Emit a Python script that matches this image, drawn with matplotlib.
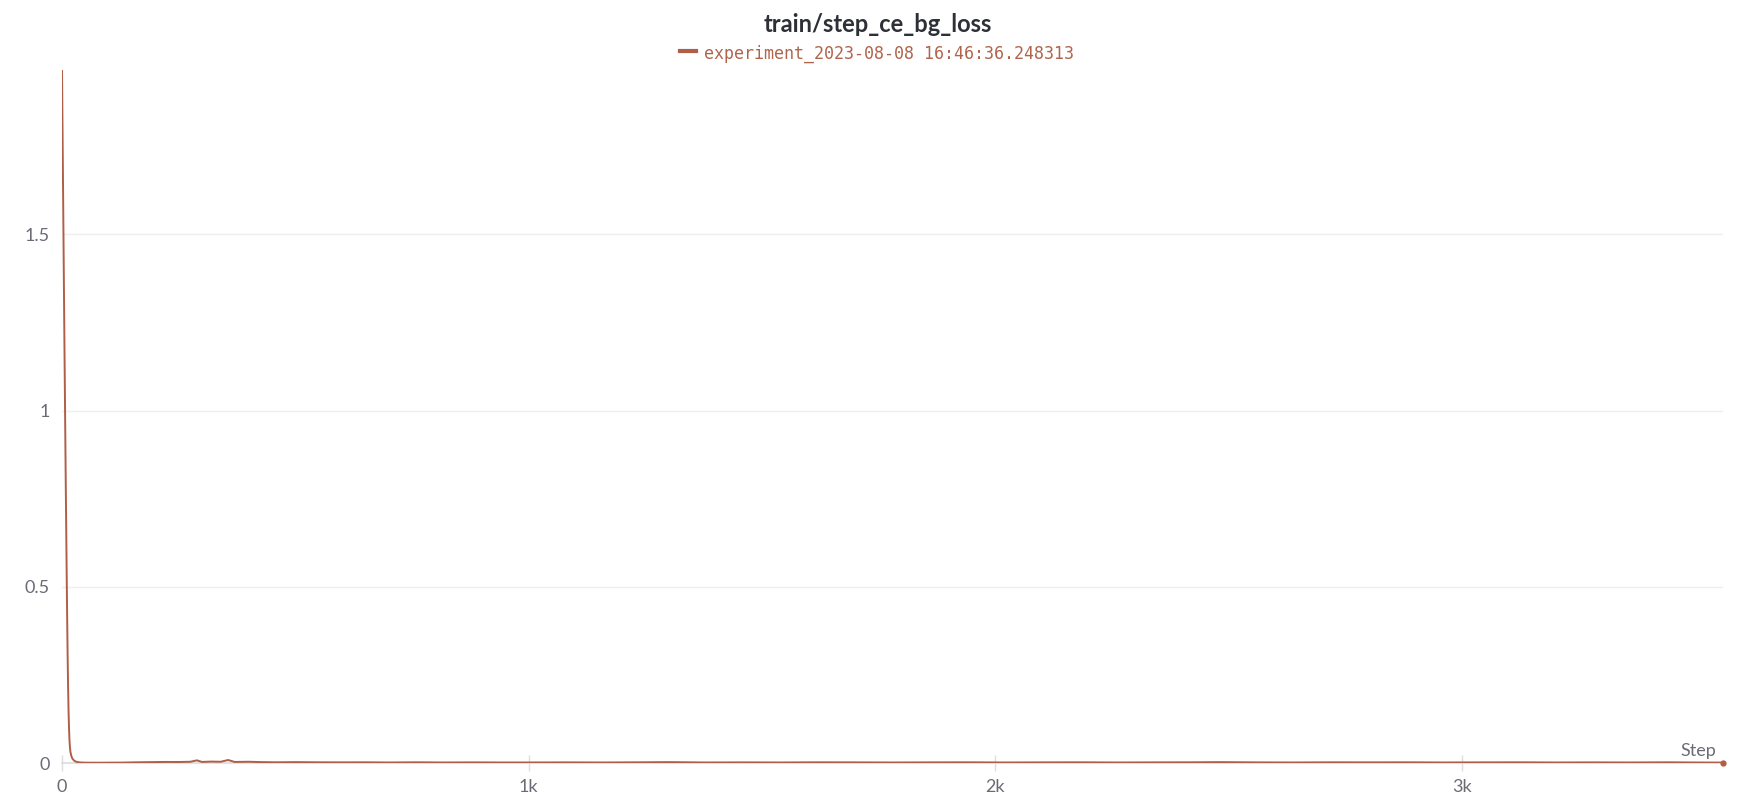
import matplotlib
matplotlib.use("Agg")
import matplotlib.pyplot as plt
from matplotlib.ticker import FixedLocator

# ---- data ----
title = "train/step_ce_bg_loss"
run_name = "experiment_2023-08-08 16:46:36.248313"

steps_head = [0, 1, 2, 3, 4, 5, 6, 7, 8, 9, 10, 11, 12, 13, 14, 15, 16, 17, 18,
              20, 22, 25, 28, 32, 36, 40, 50]
loss_head = [1.97, 1.82, 1.67, 1.52, 1.37, 1.22, 1.08, 0.94, 0.80, 0.67, 0.54,
             0.42, 0.31, 0.22, 0.15, 0.10, 0.065, 0.045, 0.032, 0.020, 0.013,
             0.008, 0.005, 0.003, 0.002, 0.0015, 0.001]

steps_tail = [75, 100, 130, 160, 190, 220, 250, 275, 289, 300, 320, 340, 356,
              370, 400, 430, 460, 500, 550, 600, 650, 700, 760, 820, 880, 940,
              1000, 1080, 1160, 1240, 1300, 1380, 1460, 1540, 1620, 1700, 1780,
              1860, 1940, 2020, 2100, 2180, 2260, 2340, 2420, 2480, 2560, 2640,
              2720, 2800, 2880, 2960, 3040, 3120, 3200, 3280, 3360, 3440, 3500,
              3559]
loss_tail = [0.0008, 0.0010, 0.0012, 0.0020, 0.0025, 0.0030, 0.0028, 0.0035,
             0.0075, 0.0030, 0.0040, 0.0035, 0.0085, 0.0030, 0.0035, 0.0025,
             0.0020, 0.0025, 0.0020, 0.0018, 0.0020, 0.0015, 0.0020, 0.0015,
             0.0018, 0.0015, 0.0015, 0.0018, 0.0015, 0.0020, 0.0025, 0.0015,
             0.0018, 0.0015, 0.0020, 0.0018, 0.0015, 0.0018, 0.0020, 0.0015,
             0.0018, 0.0020, 0.0015, 0.0018, 0.0020, 0.0025, 0.0018, 0.0015,
             0.0020, 0.0018, 0.0020, 0.0015, 0.0018, 0.0020, 0.0015, 0.0018,
             0.0015, 0.0020, 0.0015, 0.0012]

steps = steps_head + steps_tail
loss = loss_head + loss_tail

x_ticks = [0, 1000, 2000, 3000]
x_tick_labels = ["0", "1k", "2k", "3k"]
y_ticks = [0, 0.5, 1, 1.5]
y_tick_labels = ["0", "0.5", "1", "1.5"]

# ---- style ----
line_color = "#b05e47"
text_color = "#6b6b76"
W, H = 1755, 802
fig = plt.figure(figsize=(W / 100, H / 100), dpi=100)
fig.patch.set_facecolor("white")

left_px, right_px, top_px, bottom_px = 62, 1723, 70, 763
ax = fig.add_axes([left_px / W, 1 - bottom_px / H,
                   (right_px - left_px) / W, (bottom_px - top_px) / H])
ax.set_xlim(0, 3559)
ax.set_ylim(0, 1.966)

ax.plot(steps, loss, color=line_color, lw=1.4, solid_joinstyle="round", zorder=3)
ax.plot([steps[-1]], [loss[-1]], "o", color=line_color, ms=3.5, zorder=4, clip_on=False)

for s in ["top", "right", "left"]:
    ax.spines[s].set_visible(False)
ax.spines["bottom"].set_color("#dcdcdc")
ax.spines["bottom"].set_linewidth(1.2)

ax.xaxis.set_major_locator(FixedLocator(x_ticks))
ax.set_xticklabels(x_tick_labels)
ax.yaxis.set_major_locator(FixedLocator(y_ticks))
ax.set_yticklabels(y_tick_labels)

ax.tick_params(axis="x", direction="inout", length=11, width=1, color="#dddddd",
               labelsize=13, labelcolor=text_color, pad=6)
ax.tick_params(axis="y", length=0, labelsize=13, labelcolor=text_color, pad=9)
for lab in ax.get_xticklabels() + ax.get_yticklabels():
    lab.set_family("Lato")

ax.grid(axis="y", color="#efefef", lw=1)
ax.grid(axis="x", visible=False)
ax.set_axisbelow(True)

# title & legend
fig.text(0.5, 1 - 25 / H, title, ha="center", va="center", fontsize=17,
         fontweight="bold", color="#2f3037", family="Lato")
fig.lines.append(plt.Line2D([680 / W, 696 / W], [1 - 51 / H, 1 - 51 / H],
                            transform=fig.transFigure, color=line_color, lw=3))
fig.text(704 / W, 1 - 54 / H, run_name, ha="left", va="center", fontsize=12,
         color="#b0644c", family="DejaVu Sans Mono")

# x-axis label "Step"
fig.text(1716 / W, 1 - 751 / H, "Step", ha="right", va="center", fontsize=13,
         color=text_color, family="Lato")

fig.savefig("out.png", dpi=100, facecolor="white")
